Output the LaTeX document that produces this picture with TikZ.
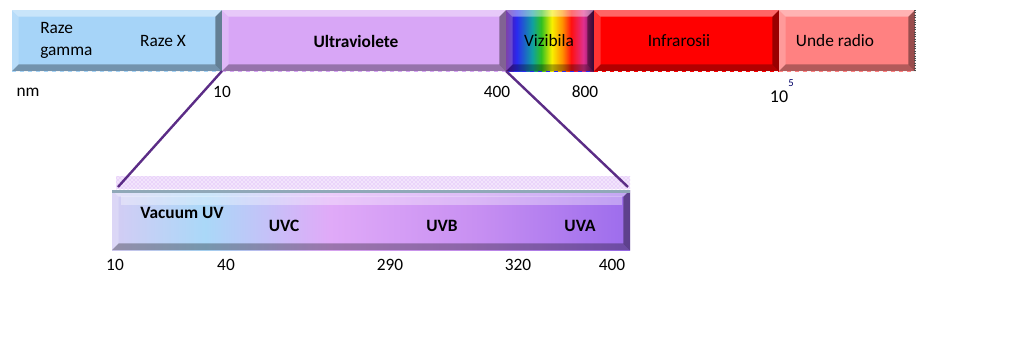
\documentclass[tikz,border=0pt]{standalone}
\usepackage{fontspec}
\setmainfont{Carlito}
\usetikzlibrary{fit,patterns}
\definecolor{gxc}{HTML}{A6D4F8}
\definecolor{uvc}{HTML}{D8A6F6}
\definecolor{irc}{HTML}{FF0000}
\definecolor{rdc}{HTML}{FF8181}
\definecolor{conc}{HTML}{5B2C86}
\definecolor{patc}{HTML}{D0A0F4}
\definecolor{patb}{HTML}{F2E4FC}
\definecolor{topedge}{HTML}{90A8B8}
\definecolor{rb1}{HTML}{5A1098}
\definecolor{rb2}{HTML}{2A2AF0}
\definecolor{rb3}{HTML}{10A0A0}
\definecolor{rb4}{HTML}{30C020}
\definecolor{rb5}{HTML}{F8F000}
\definecolor{rb6}{HTML}{FF9000}
\definecolor{rb7}{HTML}{FF1010}
\definecolor{rb8}{HTML}{E03090}
\definecolor{rb9}{HTML}{50105A}
\definecolor{lu1}{HTML}{D4CCF4}
\definecolor{lu2}{HTML}{AAD8F8}
\definecolor{lu3}{HTML}{E0AAF8}
\definecolor{lu4}{HTML}{C890F2}
\definecolor{lu5}{HTML}{9C6CEC}
\pgfdeclarehorizontalshading{rainbow}{100bp}{color(0bp)=(rb1); color(25bp)=(rb1); color(31bp)=(rb2); color(40bp)=(rb3); color(45bp)=(rb4); color(51bp)=(rb5); color(57bp)=(rb6); color(62bp)=(rb7); color(69bp)=(rb8); color(75bp)=(rb9); color(100bp)=(rb9)}
\pgfdeclarehorizontalshading{lowuv}{100bp}{color(0bp)=(lu1); color(25bp)=(lu1); color(34bp)=(lu2); color(46bp)=(lu3); color(60bp)=(lu4); color(75bp)=(lu5); color(100bp)=(lu5)}
\newcommand{\bv}{5pt}
\tikzset{
  box/.style={inner sep=0pt, outer sep=0pt, draw=none, font=\fontsize{13}{15}\selectfont,
    path picture={
      \path (path picture bounding box.north west) coordinate (pNW)
            (path picture bounding box.north east) coordinate (pNE)
            (path picture bounding box.south west) coordinate (pSW)
            (path picture bounding box.south east) coordinate (pSE);
      \fill[white,opacity=.40] (pNW) -- (pNE) -- ([shift={(-\bv,-\bv)}]pNE) -- ([shift={(\bv,-\bv)}]pNW) -- cycle;
      \fill[white,opacity=.20] (pNW) -- (pSW) -- ([shift={(\bv,\bv)}]pSW) -- ([shift={(\bv,-\bv)}]pNW) -- cycle;
      \fill[black,opacity=.30] (pSW) -- (pSE) -- ([shift={(-\bv,\bv)}]pSE) -- ([shift={(\bv,\bv)}]pSW) -- cycle;
      \fill[black,opacity=.40] (pNE) -- (pSE) -- ([shift={(-\bv,\bv)}]pSE) -- ([shift={(-\bv,-\bv)}]pNE) -- cycle;
    }},
  lbl/.style={inner sep=0pt, font=\fontsize{13}{16.5}\selectfont},
  blbl/.style={inner sep=0pt, font=\fontsize{13}{15}\selectfont\bfseries},
  num/.style={inner sep=0pt, font=\fontsize{13}{15}\selectfont},
  conn/.style={draw=conc, line width=1.8pt},
  edge/.style={dashed, line width=0.8pt}
}
\begin{document}
\begin{tikzpicture}[x=0.75pt,y=-0.75pt]
\useasboundingbox (0,0) rectangle (1029,362);
% top bar
\node[box, fill=gxc, fit={(12,10)(222,71)}] (gx) {};
\node[box, fill=uvc, fit={(222,10)(506,71)}] (uv) {};
\node[box, shading=rainbow, fit={(506,10)(594,71)}] (vis) {};
\node[box, fill=irc, fit={(594,10)(779,71)}] (ir) {};
\node[box, fill=rdc, fit={(779,10)(915,71)}] (rd) {};
\node[lbl, align=left, anchor=west] (gam) at (40,40) {Raze\\gamma};
\node[lbl] (xr) at (163,41) {Raze X};
\node[blbl] (uvl) at (356,41) {Ultraviolete};
\node[lbl] (visl) at (549,41) {Vizibila};
\node[lbl] (irl) at (679,41) {Infrarosii};
\node[lbl] (rdl) at (835,41) {Unde radio};
% dashed bottom edges
\draw[edge, draw=gxc] ([yshift=-0.6pt]gx.south west) -- ([yshift=-0.6pt]gx.south east);
\draw[edge, draw=uvc] ([yshift=-0.6pt]uv.south west) -- ([yshift=-0.6pt]uv.south east);
\draw[edge, draw=rb2] ([yshift=-0.6pt]vis.south west) -- ([yshift=-0.6pt]vis.south east);
\draw[edge, draw=irc] ([yshift=-0.6pt]ir.south west) -- ([yshift=-0.6pt]ir.south east);
\draw[edge, draw=rdc] ([yshift=-0.6pt]rd.south west) -- ([yshift=-0.6pt]rd.south east);
\draw[densely dotted, line width=0.8pt, draw=black!70] (rd.north east) -- (rd.south east);
% top scale
\node[num] (nm) at (28,92) {nm};
\node[num] (t10) at (222,92) {10};
\node[num] (t400) at (497,92) {400};
\node[num] (t800) at (585,92) {800};
\node[inner sep=0pt, font=\fontsize{13.5}{15}\selectfont] (t105) at (779,97) {10};
\node[inner sep=0pt, font=\fontsize{8}{9}\selectfont, text=blue!40!black] (t5) at (791,83) {5};
% lower bar
\fill[patb] (116,176) rectangle (630,189);
\fill[pattern=crosshatch dots, pattern color=patc] (116,176) rectangle (630,189);
\coordinate (pl) at (118,187);
\coordinate (pr) at (628,187);
\node[box, shading=lowuv, fit={(112,190)(630,250)}] (low) {};
\fill[white, opacity=.35] (121,196) rectangle (622,205);
\draw[draw=topedge, line width=2.2pt] ([yshift=-1pt]low.north west) -- ([yshift=-1pt]low.north east);
\node[blbl] (vac) at (182,213) {Vacuum UV};
\node[blbl] (uvcl) at (284,226) {UVC};
\node[blbl] (uvbl) at (442,226) {UVB};
\node[blbl] (uval) at (580,226) {UVA};
\node[num] (b10) at (115,265) {10};
\node[num] (b40) at (226,265) {40};
\node[num] (b290) at (390,265) {290};
\node[num] (b320) at (518,265) {320};
\node[num] (b400) at (612,265) {400};
% connectors
\draw[conn] (uv.south west) -- (pl);
\draw[conn] (uv.south east) -- (pr);
\end{tikzpicture}
\end{document}
